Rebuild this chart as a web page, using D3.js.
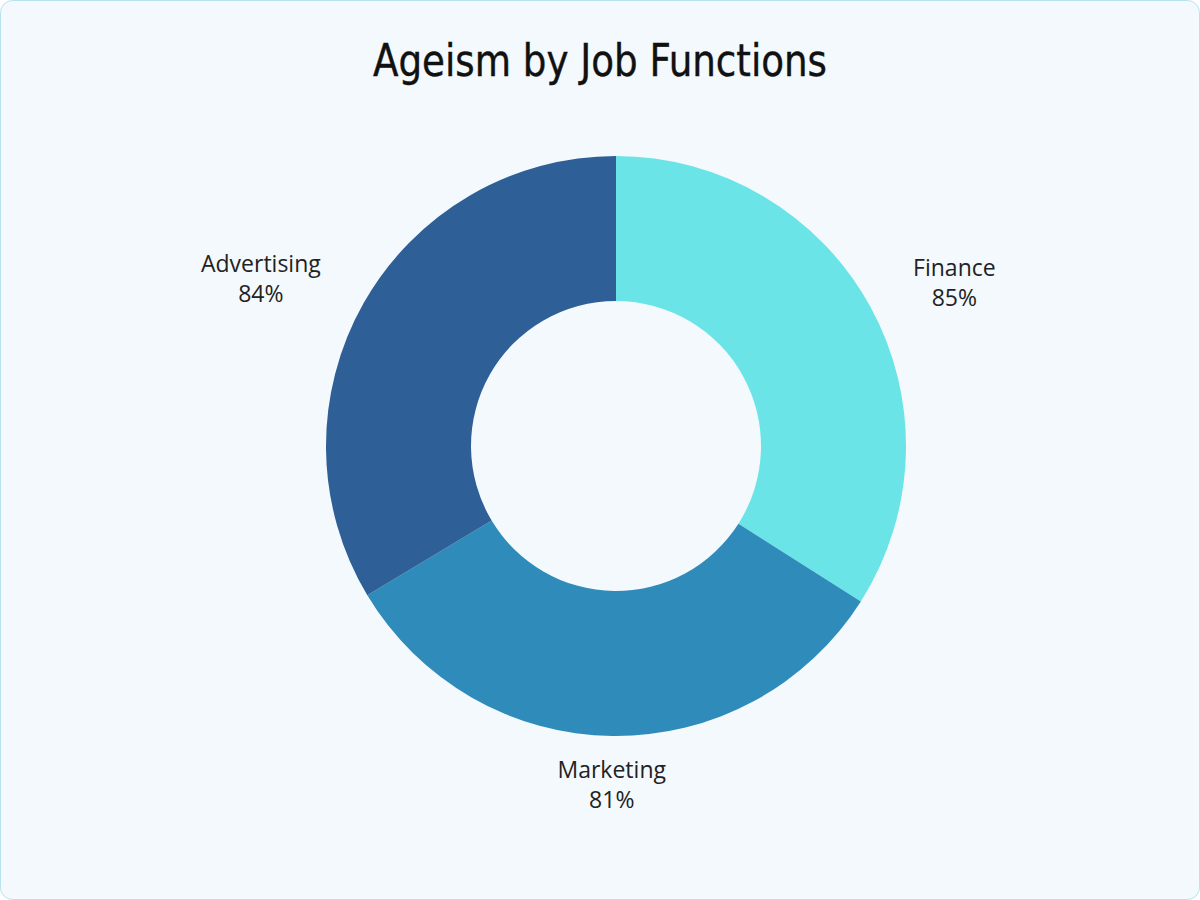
<!DOCTYPE html>
<html>
<head>
<meta charset="utf-8">
<script src="https://cdn.jsdelivr.net/npm/d3@7"></script>
<style>
  html, body { margin: 0; padding: 0; background: #ffffff; }
  #chart { width: 1200px; height: 900px; }
</style>
</head>
<body>
<div id="chart"></div>
<script>
var categories = ["Finance", "Marketing", "Advertising"];
var values = [85, 81, 84];
var colors = ["#6be4e8", "#2e8bba", "#2e5f97"];

var width = 1200, height = 900;
var cx = 616, cy = 446;
var outerR = 290, innerR = 145, labelR = 339;

var svg = d3.select("#chart").append("svg")
  .attr("width", width)
  .attr("height", height);

// card background
svg.append("rect")
  .attr("x", 0.5).attr("y", 0.5)
  .attr("width", width - 1).attr("height", height - 1)
  .attr("rx", 12).attr("ry", 12)
  .attr("fill", "#f3f9fd")
  .attr("stroke", "#b8e2ee")
  .attr("stroke-width", 1);

svg.append("text")
  .attr("x", 600).attr("y", 76)
  .attr("text-anchor", "middle")
  .attr("textLength", 454)
  .attr("lengthAdjust", "spacingAndGlyphs")
  .style("font-family", "'DejaVu Sans Condensed', 'DejaVu Sans', sans-serif")
  .style("font-size", "45px")
  .attr("fill", "#111")
  .attr("stroke", "#111")
  .attr("stroke-width", 0.4)
  .text("Ageism by Job Functions");

var data = categories.map(function (c, i) {
  return { name: c, value: values[i], color: colors[i] };
});

var pie = d3.pie().sort(null).value(function (d) { return d.value; });
var arcs = pie(data);

var arc = d3.arc().innerRadius(innerR).outerRadius(outerR);
var labelArc = d3.arc().innerRadius(labelR).outerRadius(labelR);

var g = svg.append("g").attr("transform", "translate(" + cx + "," + cy + ")");

g.selectAll("path")
  .data(arcs)
  .enter()
  .append("path")
  .attr("d", arc)
  .attr("fill", function (d) { return d.data.color; });

var labels = g.selectAll("text.lbl")
  .data(arcs)
  .enter()
  .append("text")
  .attr("class", "lbl")
  .attr("text-anchor", "middle")
  .style("font-family", "'Open Sans', 'Noto Sans', sans-serif")
  .style("font-size", "23px")
  .attr("fill", "#222");

labels.append("tspan")
  .attr("x", 0).attr("dy", "-0.3em")
  .text(function (d) { return d.data.name; });

labels.append("tspan")
  .attr("x", 0)
  .attr("dy", 30)
  .text(function (d) { return d.data.value + "%"; });

// shift each label block sideways so its near edge sits at the label radius
labels.attr("transform", function (d) {
  var c = labelArc.centroid(d);
  var mid = (d.startAngle + d.endAngle) / 2;
  var s = Math.sin(mid);
  var w = this.getBBox().width;
  var dx = 0;
  if (Math.abs(s) >= 0.2) dx = (s > 0 ? 1 : -1) * w / 2;
  return "translate(" + (c[0] + dx) + "," + c[1] + ")";
});
</script>
</body>
</html>
